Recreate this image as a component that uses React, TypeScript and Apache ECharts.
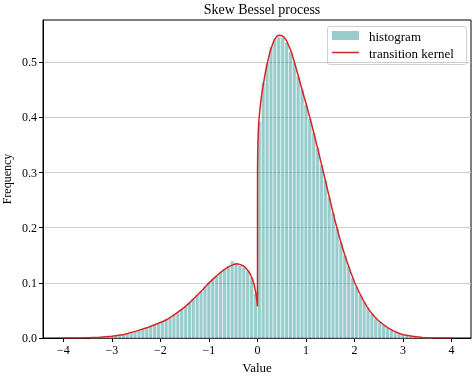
import React, { useEffect, useRef } from "react";
import * as echarts from "echarts";

// Histogram: bins of equal width starting at BIN_START
const BIN_START = -3.44;
const BIN_WIDTH = 0.08;
const histHeights = [
  // left part, bin centres -3.40 ... -0.04
  0.0008, 0.001, 0.0014, 0.0018, 0.0025, 0.003, 0.004, 0.005, 0.0065, 0.0078,
  0.0095, 0.0118, 0.0146, 0.0168, 0.019, 0.0215, 0.024, 0.0268, 0.0305, 0.0338,
  0.0372, 0.0425, 0.0465, 0.0528, 0.0575, 0.0645, 0.0712, 0.0785, 0.0848, 0.0935,
  0.1012, 0.1065, 0.1135, 0.1205, 0.125, 0.1312, 0.1395, 0.1365, 0.1318, 0.1285,
  0.1225, 0.1095, 0.081,
  // right part, bin centres 0.04 ... 3.56
  0.392, 0.463, 0.499, 0.528, 0.542, 0.546, 0.545, 0.536, 0.519, 0.499,
  0.474, 0.451, 0.423, 0.398, 0.372, 0.345, 0.314, 0.286, 0.255, 0.227,
  0.199, 0.174, 0.15, 0.13, 0.109, 0.093, 0.078, 0.066, 0.054, 0.044,
  0.036, 0.029, 0.024, 0.019, 0.015, 0.011, 0.0082, 0.006, 0.0046, 0.0035,
  0.0025, 0.0018, 0.0012, 0.0008, 0.0005,
];

// Transition kernel (density curve)
const curveX = [
  -4.0, -3.75, -3.5, -3.25, -3.0, -2.75, -2.5, -2.25, -2.0, -1.875,
  -1.75, -1.625, -1.5, -1.375, -1.25, -1.125, -1.0, -0.9, -0.8, -0.7,
  -0.6, -0.5, -0.45, -0.4, -0.35, -0.3, -0.25, -0.2, -0.15, -0.1,
  -0.07, -0.04, -0.02, -0.005, 0.0, 0.0005, 0.005, 0.015, 0.03, 0.05,
  0.08, 0.12, 0.16, 0.2, 0.25, 0.3, 0.35, 0.4, 0.45, 0.5,
  0.55, 0.6, 0.7, 0.8, 0.9, 1.0, 1.1, 1.2, 1.3, 1.4,
  1.5, 1.6, 1.7, 1.8, 1.9, 2.0, 2.1, 2.2, 2.3, 2.4,
  2.5, 2.6, 2.7, 2.8, 2.9, 3.0, 3.2, 3.4, 3.6, 3.8, 4.0,
];
const curveY = [
  0.0, 0.0002, 0.0006, 0.0014, 0.003, 0.0065, 0.0125, 0.0195, 0.028, 0.033,
  0.04, 0.048, 0.056, 0.066, 0.077, 0.088, 0.1, 0.108, 0.116, 0.123,
  0.129, 0.133, 0.134, 0.134, 0.133, 0.131, 0.128, 0.123, 0.116, 0.106,
  0.097, 0.085, 0.073, 0.062, 0.057, 0.3, 0.34, 0.37, 0.395, 0.415,
  0.437, 0.46, 0.48, 0.497, 0.516, 0.53, 0.541, 0.547, 0.549, 0.548,
  0.545, 0.539, 0.518, 0.488, 0.456, 0.425, 0.393, 0.358, 0.322, 0.285,
  0.248, 0.212, 0.179, 0.15, 0.124, 0.101, 0.082, 0.065, 0.051, 0.04,
  0.031, 0.024, 0.018, 0.013, 0.009, 0.006, 0.003, 0.001, 0.0004, 0.0001, 0.0,
];

const xTicks = [-4, -3, -2, -1, 0, 1, 2, 3, 4];
const yTicks = [0, 0.1, 0.2, 0.3, 0.4, 0.5];

const FONT = "Liberation Serif";
const TEAL = "rgba(0,128,128,0.4)";
const RED = "#d62728";

export default function App() {
  const ref = useRef<HTMLDivElement>(null);
  useEffect(() => {
    if (!ref.current) return;
    const chart = echarts.init(ref.current, undefined, { renderer: "svg" });
    const histData = histHeights.map((h, i) => [
      BIN_START + i * BIN_WIDTH,
      BIN_START + (i + 1) * BIN_WIDTH,
      h,
    ]);
    const lineData = curveX.map((x, i) => [x, curveY[i]]);
    chart.setOption({
      animation: false,
      title: {
        text: "Skew Bessel process",
        left: 257,
        top: -3,
        textAlign: "center",
        textStyle: { fontFamily: FONT, fontSize: 14, fontWeight: "normal", color: "#000" },
      },
      grid: {
        left: 43,
        right: 3,
        top: 20,
        bottom: 38,
        containLabel: false,
        outerBoundsMode: "none",
        show: true,
        borderColor: "#000",
        borderWidth: 1,
        backgroundColor: "transparent",
      },
      xAxis: {
        type: "value",
        min: -4.42,
        max: 4.4,
        name: "Value",
        nameLocation: "middle",
        nameGap: 22,
        nameTextStyle: { fontFamily: FONT, fontSize: 13, color: "#000" },
        axisLine: { show: true, onZero: false, lineStyle: { color: "#000" } },
        axisTick: { show: true, length: 4, customValues: xTicks, lineStyle: { color: "#000" } },
        axisLabel: {
          customValues: xTicks,
          fontFamily: FONT,
          fontSize: 12,
          color: "#000",
          margin: 6,
          formatter: (v: number) => String(v).replace("-", "\u2212"),
        },
        splitLine: { show: false },
      },
      yAxis: {
        type: "value",
        min: 0,
        max: 0.5765,
        name: "Frequency",
        nameLocation: "middle",
        nameGap: 30,
        nameMoveOverlap: false,
        nameRotate: 90,
        nameTextStyle: { fontFamily: FONT, fontSize: 12, color: "#000" },
        axisLine: { show: true, onZero: false, lineStyle: { color: "#000" } },
        axisTick: { show: true, length: 4, customValues: yTicks, lineStyle: { color: "#000" } },
        axisLabel: {
          customValues: yTicks,
          fontFamily: FONT,
          fontSize: 12,
          color: "#000",
          margin: 6,
          formatter: (v: number) => v.toFixed(1),
        },
        splitLine: { show: true, lineStyle: { color: "#cccccc", width: 1 } },
      },
      series: [
        {
          type: "custom",
          name: "histogram",
          data: histData,
          encode: { x: [0, 1], y: 2 },
          z: 2,
          renderItem: (params: any, api: any) => {
            const x0 = api.value(0);
            const x1 = api.value(1);
            const h = api.value(2);
            const p0 = api.coord([x0, 0]);
            const p1 = api.coord([x1, h]);
            return {
              type: "rect",
              shape: { x: p0[0], y: p1[1], width: p1[0] - p0[0], height: p0[1] - p1[1] },
              style: { fill: TEAL, stroke: "rgba(255,255,255,0.85)", lineWidth: 0.6 },
            };
          },
        },
        {
          type: "line",
          name: "transition kernel",
          data: lineData,
          showSymbol: false,
          symbol: "none",
          smooth: false,
          z: 3,
          lineStyle: { color: RED, width: 1.5 },
        },
      ],
      graphic: [
        {
          type: "group",
          z: 100,
          children: [
            {
              type: "rect",
              shape: { x: 327.5, y: 26.5, width: 139, height: 38, r: 2 },
              style: { fill: "#fff", stroke: "#d0d0d0", lineWidth: 1 },
            },
            {
              type: "rect",
              shape: { x: 332, y: 31, width: 27, height: 9 },
              style: { fill: TEAL },
            },
            {
              type: "text",
              x: 369,
              y: 36,
              style: {
                text: "histogram",
                font: `13px '${FONT}'`,
                fill: "#000",
                verticalAlign: "middle",
                align: "left",
              },
            },
            {
              type: "line",
              shape: { x1: 332, y1: 52.5, x2: 359, y2: 52.5 },
              style: { stroke: RED, lineWidth: 1.5 },
            },
            {
              type: "text",
              x: 369,
              y: 53,
              style: {
                text: "transition kernel",
                font: `13px '${FONT}'`,
                fill: "#000",
                verticalAlign: "middle",
                align: "left",
              },
            },
          ],
        },
      ],
    });
    return () => chart.dispose();
  }, []);
  return (
    <div
      ref={ref}
      style={{ position: "fixed", left: 0, top: 0, width: 474, height: 376 }}
    />
  );
}
